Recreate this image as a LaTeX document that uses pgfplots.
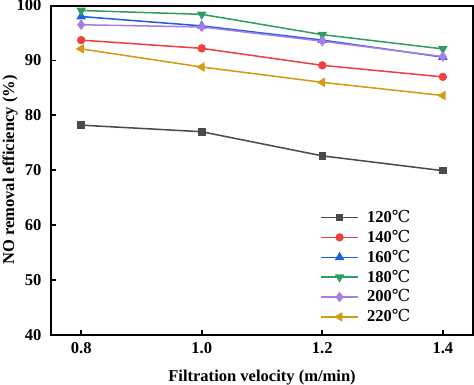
\documentclass[border=0pt]{standalone}
\usepackage{fontspec}
\setmainfont{Liberation Serif}
\newfontfamily\dv{DejaVu Serif}
\newcommand{\degC}{{\dv\mdseries ℃}}
\usepackage{pgfplots}
\pgfplotsset{compat=1.18}
\definecolor{c120}{HTML}{4A4A4A}
\definecolor{c140}{HTML}{EF4040}
\definecolor{c160}{HTML}{1E5FE0}
\definecolor{c180}{HTML}{2E9E60}
\definecolor{c200}{HTML}{A87DE8}
\definecolor{c220}{HTML}{D49A12}
\begin{document}
\begin{tikzpicture}
\begin{axis}[
  scale only axis,
  width=250pt, height=195pt,
  xmin=0.75, xmax=1.45, ymin=40, ymax=100,
  xtick={0.8,1.0,1.2,1.4},
  xticklabels={0.8,1.0,1.2,1.4},
  ytick={40,50,...,100},
  tick align=inside,
  xtick pos=bottom, ytick pos=left,
  major tick length=3pt,
  axis line style={line width=1.2pt},
  every tick/.style={black, line width=1pt},
  font=\fontsize{9.8}{11}\selectfont\bfseries,
  /pgf/number format/assume math mode=true,
  xticklabel style={font=\fontsize{9.8}{11}\selectfont\bfseries, inner sep=0pt, yshift=-4.5pt},
  yticklabel style={font=\fontsize{9.8}{11}\selectfont\bfseries, inner sep=0pt, xshift=-5.5pt},
  xlabel={Filtration velocity (m/min)},
  ylabel={NO removal efficiency (\%)},
  xlabel style={at={(axis description cs:0.5,-0.129)}, anchor=center, inner sep=0pt},
  ylabel style={at={(axis description cs:-0.097,0.5)}, anchor=center, inner sep=1.5pt},
  legend style={draw=none, fill=none, at={(0.626,0.40)}, anchor=north west,
    font=\fontsize{9.8}{11}\selectfont\bfseries, row sep=-1pt,
    /tikz/every odd column/.append style={column sep=3pt}},
  legend cell align=left,
  legend image code/.code={\draw[mark repeat=2,mark phase=2] plot coordinates {(0cm,0cm) (0.38cm,0cm) (0.76cm,0cm)};},
  every axis plot/.append style={line width=0.9pt, mark size=2pt},
]
\addplot[c120, mark=square*, mark size=1.8pt] coordinates {(0.8,78.2) (1.0,77.0) (1.2,72.6) (1.4,69.9)};
\addlegendentry{120\degC}
\addplot[c140, mark=*] coordinates {(0.8,93.7) (1.0,92.2) (1.2,89.1) (1.4,87.0)};
\addlegendentry{140\degC}
\addplot[c160, mark=triangle*, mark size=2.4pt] coordinates {(0.8,98.0) (1.0,96.3) (1.2,93.7) (1.4,90.6)};
\addlegendentry{160\degC}
\addplot[c180, mark=triangle*, mark size=2.4pt, mark options={rotate=180}] coordinates {(0.8,99.1) (1.0,98.4) (1.2,94.7) (1.4,92.1)};
\addlegendentry{180\degC}
\addplot[c200, mark=diamond*, mark size=2.4pt] coordinates {(0.8,96.5) (1.0,96.1) (1.2,93.5) (1.4,90.7)};
\addlegendentry{200\degC}
\addplot[c220, mark=triangle*, mark size=2.4pt, mark options={rotate=90}] coordinates {(0.8,92.1) (1.0,88.8) (1.2,86.0) (1.4,83.6)};
\addlegendentry{220\degC}
\end{axis}
\end{tikzpicture}
\end{document}
